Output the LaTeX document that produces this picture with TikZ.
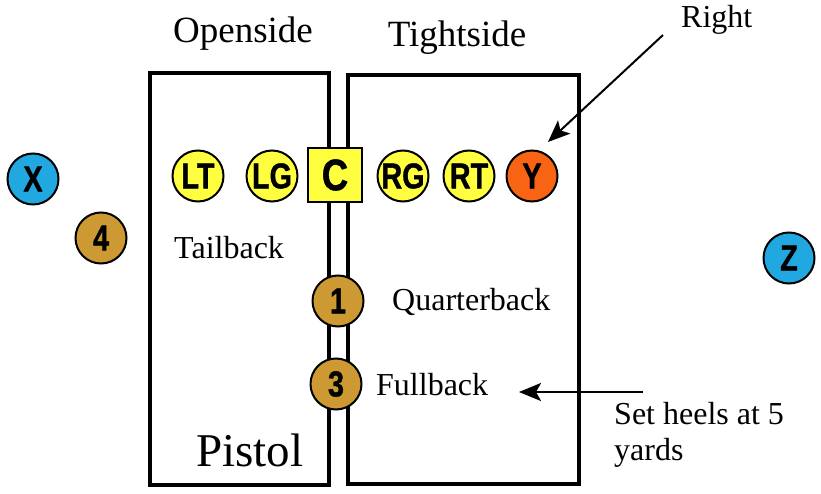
\documentclass[tikz,border=0pt]{standalone}
\usepackage{graphicx}
\usepackage{fontspec}
\setmainfont{Liberation Serif}
\newfontfamily\arialb{Liberation Sans Bold}[FakeBold=1.2]
\usetikzlibrary{arrows.meta}
\definecolor{pyellow}{HTML}{FFFF40}
\definecolor{porange}{HTML}{F86414}
\definecolor{pgold}{HTML}{CC9933}
\definecolor{pblue}{HTML}{21A8E0}
\newcommand\cond[1]{\scalebox{0.8}[1]{#1}}
\tikzset{
  player/.style={circle, draw=black, line width=2pt, minimum size=51pt, inner sep=0pt,
    font=\arialb\fontsize{36}{36}\selectfont},
  lineman/.style={player, fill=pyellow},
  back/.style={player, fill=pgold},
  wide/.style={player, fill=pblue},
  tight/.style={player, fill=porange},
  center/.style={rectangle, draw=black, line width=2pt, fill=pyellow, minimum size=54pt, inner sep=0pt,
    font=\arialb\fontsize{44}{44}\selectfont},
  zone/.style={draw=black, line width=4.5pt},
  lbl/.style={font=\fontsize{32}{36}\selectfont, inner sep=0pt},
  head/.style={font=\fontsize{37}{40}\selectfont, inner sep=0pt},
  pointer/.style={draw=black, line width=2pt, -{Stealth[length=22pt, width=18pt, inset=5pt]}}
}
\begin{document}
\begin{tikzpicture}[x=1pt, y=-1pt]
\useasboundingbox (0,0) rectangle (821,494);
% zones
\draw[zone] (150,73) rectangle (329,485);
\draw[zone] (348,75) rectangle (579,484);
% headers
\node[head] (open) at (243,34) {Openside};
\node[head] (tightt) at (457,38) {Tightside};
% players
\node[lineman] (lt) at (198,176) {\cond{LT}};
\node[lineman] (lg) at (272,176) {\cond{LG}};
\node[center] (c) at (335,175) {\scalebox{0.83}[1]{C}};
\node[lineman] (rg) at (403,176) {\cond{RG}};
\node[lineman] (rt) at (469,176) {\cond{RT}};
\node[tight] (y) at (532,176) {\cond{Y}};
\node[wide] (x) at (33,179) {\cond{X}};
\node[wide] (z) at (789,258) {\cond{Z}};
\node[back] (b4) at (101,238) {\cond{4}};
\node[back] (b1) at (338,301) {\cond{1}};
\node[back] (b3) at (336,384) {\cond{3}};
% labels
\node[lbl, anchor=west] (tail) at (174,248) {Tailback};
\node[lbl, anchor=west] (qb) at (392,302) {Quarterback};
\node[lbl, anchor=west] (fb) at (376,385) {Fullback};
\node[font=\fontsize{47}{50}\selectfont, inner sep=0pt, anchor=west] (pistol) at (196,450) {Pistol};
\node[lbl, anchor=west] (right) at (681,20) {Right};
\node[lbl, anchor=north west, align=left] (heels) at (614,402) {Set heels at 5\\yards};
% pointers
\coordinate (rs) at (663,35);
\coordinate (re) at (548,142);
\draw[pointer] (rs) -- (re);
\coordinate (hs) at (643,392);
\coordinate (he) at (519,392);
\draw[pointer] (hs) -- (he);
\end{tikzpicture}
\end{document}
